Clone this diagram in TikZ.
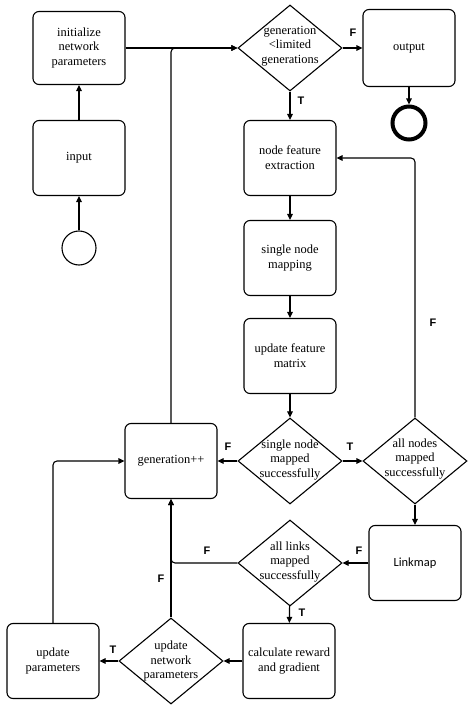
\documentclass[tikz,border=0pt]{standalone}
\usepackage{fontspec}
\setmainfont{Liberation Serif}
\newfontfamily\labfont{Liberation Sans}
\newfontfamily\calfont{Carlito}
\usetikzlibrary{arrows.meta,shapes.geometric}
\begin{document}
\begin{tikzpicture}[x=1bp,y=-1bp,
 box/.style={draw, line width=1.1bp, rounded corners=6bp, minimum width=92bp, minimum height=75bp, align=center, font=\fontsize{12.5}{15}\selectfont, inner sep=0},
 dia/.style={draw, line width=1.1bp, diamond, minimum width=104bp, minimum height=86bp, inner sep=0},
 dtext/.style={align=center, font=\fontsize{12.5}{14.5}\selectfont, inner sep=0},
 arr/.style={line width=1.1bp, -{Triangle[length=6bp,width=5.5bp]}},
 tf/.style={font=\labfont\bfseries\fontsize{11}{13}\selectfont, inner sep=0},
]
\useasboundingbox (0,0) rectangle (474,709);
% nodes
\node[box, minimum height=73bp] (init) at (79,48) {initialize\\network\\parameters};
\node[box] (input) at (79,158) {input};
\node[draw, circle, line width=1.1bp, minimum size=34bp, inner sep=0] (start) at (79,248) {};
\node[dia] (d1) at (290,48) {};
\node[dtext] (d1t) at (290,46) {generation\\<limited\\generations};
\node[box, minimum height=77bp] (out) at (409,48) {output};
\node[draw, circle, line width=4bp, minimum size=33bp, inner sep=0] (end) at (409,123) {};
\node[box] (nfe) at (290,158) {node feature\\extraction};
\node[box] (snm) at (290,258) {single node\\mapping};
\node[box] (ufm) at (290,356) {update feature\\matrix};
\node[dia] (ds) at (290,461) {};
\node[dtext] (dst) at (290,460) {single node\\mapped\\successfully};
\node[dia] (da) at (415,461) {};
\node[dtext] (dat) at (415,459) {all nodes\\mapped\\successfully};
\node[box] (gen) at (171,461) {generation++};
\node[box, font=\calfont\fontsize{12.5}{15}\selectfont] (link) at (415,563) {Linkmap};
\node[dia] (dl) at (290,563) {};
\node[dtext] (dlt) at (290,562) {all links\\mapped\\successfully};
\node[box] (calc) at (289,661) {calculate reward\\and gradient};
\node[dia] (du) at (171,661) {};
\node[dtext] (dut) at (171,661) {update\\network\\parameters};
\node[box] (upd) at (53,661) {update\\parameters};
% connectors
\draw[arr] (start) -- (input);
\draw[arr] (input) -- (init);
\draw[arr] (init) -- (d1);
\draw[arr, rounded corners=4bp] (gen.north) |- (d1.west);
\draw[arr] (d1) -- (out);
\draw[arr] (d1) -- (nfe);
\draw[arr] (out) -- (end);
\draw[arr] (nfe) -- (snm);
\draw[arr] (snm) -- (ufm);
\draw[arr] (ufm) -- (ds);
\draw[arr] (ds) -- (gen);
\draw[arr] (ds) -- (da);
\draw[arr, rounded corners=4bp] (da.north) |- (nfe.east);
\draw[arr] (da) -- (link);
\draw[arr] (link) -- (dl);
\draw[arr, rounded corners=4bp] (dl.west) -| (gen.south);
\draw[arr] (dl) -- (calc);
\draw[arr] (calc) -- (du);
\draw[arr] (du.north) -- (gen.south);
\draw[arr] (du) -- (upd);
\draw[arr, rounded corners=4bp] (upd.north) |- (gen.west);
% labels
\node[tf] (l1) at (353,33) {F};
\node[tf] (l2) at (301,101) {T};
\node[tf] (l3) at (228,447) {F};
\node[tf] (l4) at (350,447) {T};
\node[tf] (l5) at (433,323) {F};
\node[tf] (l6) at (359,551) {F};
\node[tf] (l7) at (207,551) {F};
\node[tf] (l8) at (302,613) {T};
\node[tf] (l9) at (161,579) {F};
\node[tf] (l10) at (113,650) {T};
\end{tikzpicture}
\end{document}
